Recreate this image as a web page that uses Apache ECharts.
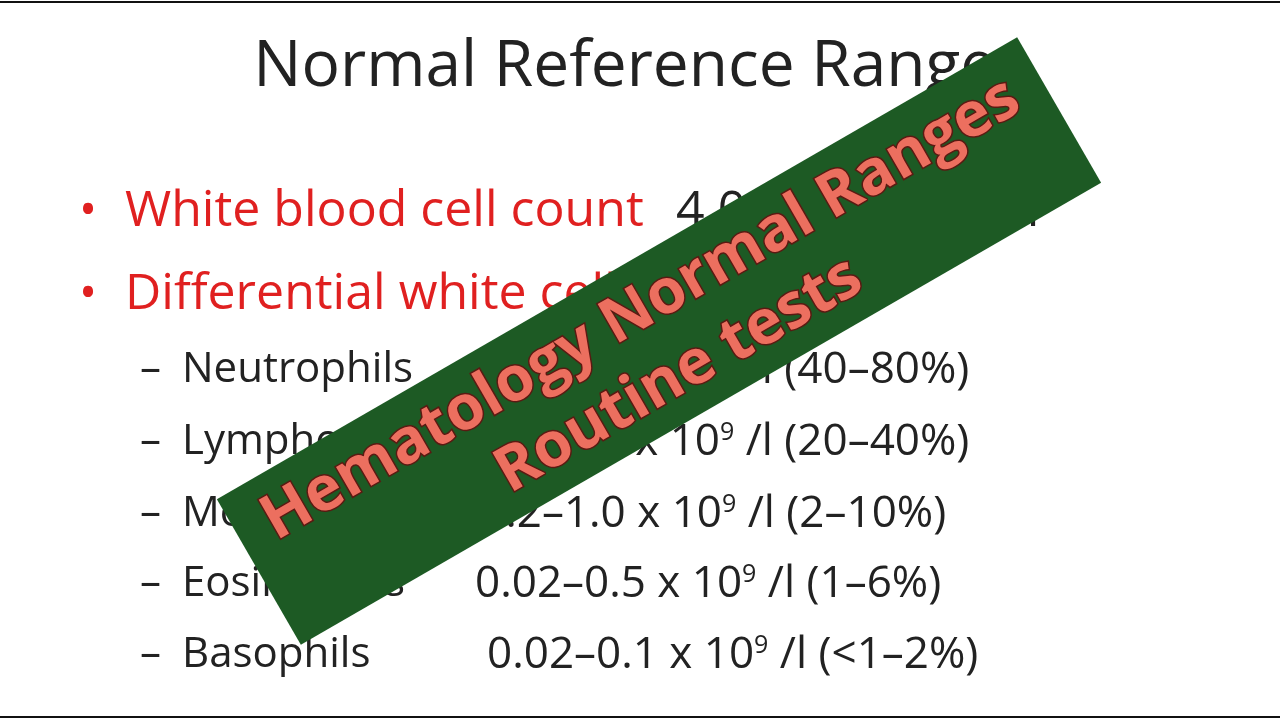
<!DOCTYPE html>
<html><head><meta charset="utf-8">
<script src="https://cdn.jsdelivr.net/npm/echarts@6/dist/echarts.min.js"></script>
<style>html,body{margin:0;padding:0;background:#fff}#c{width:1280px;height:720px}</style>
</head><body><div id="c"></div>
<script>
const title = "Normal Reference Ranges";
const bullets = ["White blood cell count", "Differential white cell count"];
const wbcValue = "4.0–11.0 x 10{sup|9} /l";
const cells = ["Neutrophils", "Lymphocytes", "Monocytes", "Eosinophils", "Basophils"];
const ranges = ["2.0–7.0", "1.0–3.0", "0.2–1.0", "0.02–0.5", "0.02–0.1"];
const percents = ["(40–80%)", "(20–40%)", "(2–10%)", "(1–6%)", "(<1–2%)"];
const rowY = [370, 442, 514, 584, 655];
const valX = [478, 478, 480, 475, 487];
const bannerLines = ["Hematology Normal Ranges", "Routine tests"];

const F = "'Open Sans', sans-serif";
const g = [];
g.push({type:'rect', shape:{x:0,y:1,width:1280,height:2}, style:{fill:'#111'}});
g.push({type:'rect', shape:{x:0,y:716,width:1280,height:2}, style:{fill:'#111'}});
g.push({type:'text', x:640, y:68, style:{text:title, font:"64px "+F, fill:'#222', align:'center', verticalAlign:'middle'}});
bullets.forEach((b,i)=>{
  const y = [212,295][i];
  g.push({type:'text', x:88, y:y, style:{text:'•', font:"48px "+F, fill:'#e02020', align:'center', verticalAlign:'middle'}});
  g.push({type:'text', x:125, y:y, style:{text:b, font:"50px "+F, fill:'#e02020', verticalAlign:'middle'}});
});
g.push({type:'text', x:676, y:212, style:{text:wbcValue, font:"50px "+F, fill:'#222', verticalAlign:'middle', rich:{sup:{fontSize:28, fontFamily:F, fill:'#222', padding:[0,0,20,0]}}}});
cells.forEach((c,i)=>{
  const y = rowY[i];
  g.push({type:'text', x:140, y:y, style:{text:'–', font:"42px "+F, fill:'#222', verticalAlign:'middle'}});
  g.push({type:'text', x:182, y:y, style:{text:c, font:"42px "+F, fill:'#222', verticalAlign:'middle'}});
  g.push({type:'text', x:valX[i], y:y, style:{text:ranges[i]+' x 10{sup|9} /l '+percents[i], font:"44px "+F, fill:'#222', verticalAlign:'middle', rich:{sup:{fontSize:25, fontFamily:F, fill:'#222', padding:[0,0,18,0]}}}});
});
g.push({type:'group', x:659, y:341, rotation:Math.atan2(460,797), children:[
  {type:'rect', shape:{x:-462,y:-84,width:924,height:168}, style:{fill:'#1d5a24'}},
  {type:'text', x:0, y:-36, style:{text:bannerLines[0], font:"bold 62px "+F, fill:'#ec6f5f', stroke:'#5a1a12', lineWidth:3, align:'center', verticalAlign:'middle'}},
  {type:'text', x:0, y:40, style:{text:bannerLines[1], font:"bold 62px "+F, fill:'#ec6f5f', stroke:'#5a1a12', lineWidth:3, align:'center', verticalAlign:'middle'}}
]});
const ch = echarts.init(document.getElementById('c'));
ch.setOption({backgroundColor:'#fff', graphic:g});
</script></body></html>
